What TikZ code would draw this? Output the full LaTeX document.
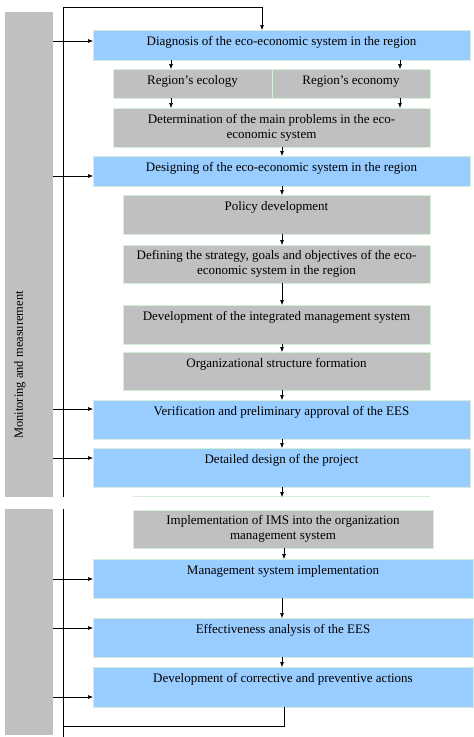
\documentclass[tikz,border=0pt]{standalone}
\usepackage{fontspec}
\setmainfont{Liberation Serif}
\usetikzlibrary{arrows.meta}
\definecolor{eesblue}{RGB}{153,204,255}
\definecolor{eesgray}{RGB}{192,192,192}
\definecolor{edgegreen}{RGB}{214,238,214}
\tikzset{
	box/.style={draw=edgegreen, line width=.5pt, anchor=north west, inner sep=0pt, outer sep=0pt, align=center, font=\fontsize{13}{15}\selectfont},
	blue box/.style={box, fill=eesblue},
	gray box/.style={box, fill=eesgray},
	top text/.style={text height=15pt, text depth=#1},
	arr/.style={-{Latex[length=5pt,width=4pt]}, line width=.6pt}
}
\begin{document}
\begin{tikzpicture}[x=1pt, y=-1pt]
	\useasboundingbox (0,0) rectangle (474,737);
	\coordinate (axis) at (282,0);
	% monitoring bars
	\node[gray box, draw=none, minimum width=48pt, minimum height=485pt] (bar1) at (5,12) {};
	\node[gray box, draw=none, minimum width=48pt, minimum height=226pt] (bar2) at (5,509) {};
	\node[rotate=90, font=\fontsize{12.5}{15}\selectfont] (monitor) at (20,365) {Monitoring and measurement};
	% design stage
	\node[blue box, minimum width=377pt, minimum height=30pt, top text=15pt] (diag)    at (93,30)  {Diagnosis of the eco-economic system in the region};
	\node[gray box, minimum width=159pt, minimum height=29pt, top text=14pt] (eco)     at (113,69) {Region's ecology};
	\node[gray box, minimum width=158pt, minimum height=29pt, top text=14pt] (econ)    at (272,69) {Region's economy};
	\node[gray box, minimum width=317pt, minimum height=39pt]                (problem) at (113,108) {Determination of the main problems in the eco-\\economic system};
	\node[blue box, minimum width=377pt, minimum height=30pt, top text=15pt] (design)  at (93,156) {Designing of the eco-economic system in the region};
	\node[gray box, minimum width=307pt, minimum height=39pt, top text=24pt] (policy)  at (123,195) {Policy development};
	\node[gray box, minimum width=307pt, minimum height=38pt]                (define)  at (123,245) {Defining the strategy, goals and objectives of the eco-\\economic system in the region};
	\node[gray box, minimum width=307pt, minimum height=39pt, top text=24pt] (ims)     at (123,305) {Development of the integrated management system};
	\node[gray box, minimum width=307pt, minimum height=38pt, top text=23pt] (org)     at (123,352) {Organizational structure formation};
	\node[blue box, minimum width=377pt, minimum height=39pt, top text=24pt] (verif)   at (93,400) {Verification and preliminary approval of the EES};
	\node[blue box, minimum width=377pt, minimum height=39pt, top text=24pt] (detail)  at (93,448) {Detailed design of the project};
	% implementation stage
	\node[gray box, minimum width=300pt, minimum height=38pt]                (implement) at (133,510) {Implementation of IMS into the organization\\management system};
	\node[blue box, minimum width=380pt, minimum height=39pt, top text=24pt] (mgmt)    at (93,559) {Management system implementation};
	\node[blue box, minimum width=380pt, minimum height=39pt, top text=24pt] (effect)  at (93,618) {Effectiveness analysis of the EES};
	\node[blue box, minimum width=380pt, minimum height=40pt, top text=25pt] (correct) at (93,667) {Development of corrective and preventive actions};
	\coordinate (cut) at (282,497);
	\draw[edgegreen, line width=.6pt] (133,496) -- (430,496);
	% feedback lines
	\coordinate (top) at (262,7);
	\coordinate (loopB) at (63,726);
	\draw[line width=.6pt] (63,497) -- (63,7) -- (top);
	\draw[arr] (top) -- (diag.north -| top);
	\draw[line width=.6pt] (63,509) -- (63,737);
	\draw[line width=.6pt] (correct.south -| 284,0) |- (loopB);
	\foreach \b/\y in {diag/41, design/176, verif/409, detail/458}
		\draw[arr] (bar1.east |- 0,\y) -- (\b.west |- 0,\y);
	\foreach \b/\y in {mgmt/579, effect/628, correct/697}
		\draw[arr] (bar2.east |- 0,\y) -- (\b.west |- 0,\y);
	% flow
	\draw[arr] (diag.south -| 171,0) -- (eco.north -| 171,0);
	\draw[arr] (diag.south -| 400,0) -- (econ.north -| 400,0);
	\draw[arr] (eco.south -| 171,0) -- (problem.north -| 171,0);
	\draw[arr] (econ.south -| 400,0) -- (problem.north -| 400,0);
	\draw[arr] (problem.south -| axis) -- (design.north -| axis);
	\draw[arr] (design.south -| axis) -- (policy.north -| axis);
	\draw[arr] (policy.south -| axis) -- (define.north -| axis);
	\draw[arr] (define.south -| axis) -- (ims.north -| axis);
	\draw[arr] (ims.south -| axis) -- (org.north -| axis);
	\draw[arr] (org.south -| axis) -- (verif.north -| axis);
	\draw[arr] (verif.south -| axis) -- (detail.north -| axis);
	\draw[arr] (detail.south -| axis) -- (cut);
	\draw[arr] (implement.south -| 284,0) -- (mgmt.north -| 284,0);
	\draw[arr] (mgmt.south -| axis) -- (effect.north -| axis);
	\draw[arr] (effect.south -| axis) -- (correct.north -| axis);
\end{tikzpicture}
\end{document}
